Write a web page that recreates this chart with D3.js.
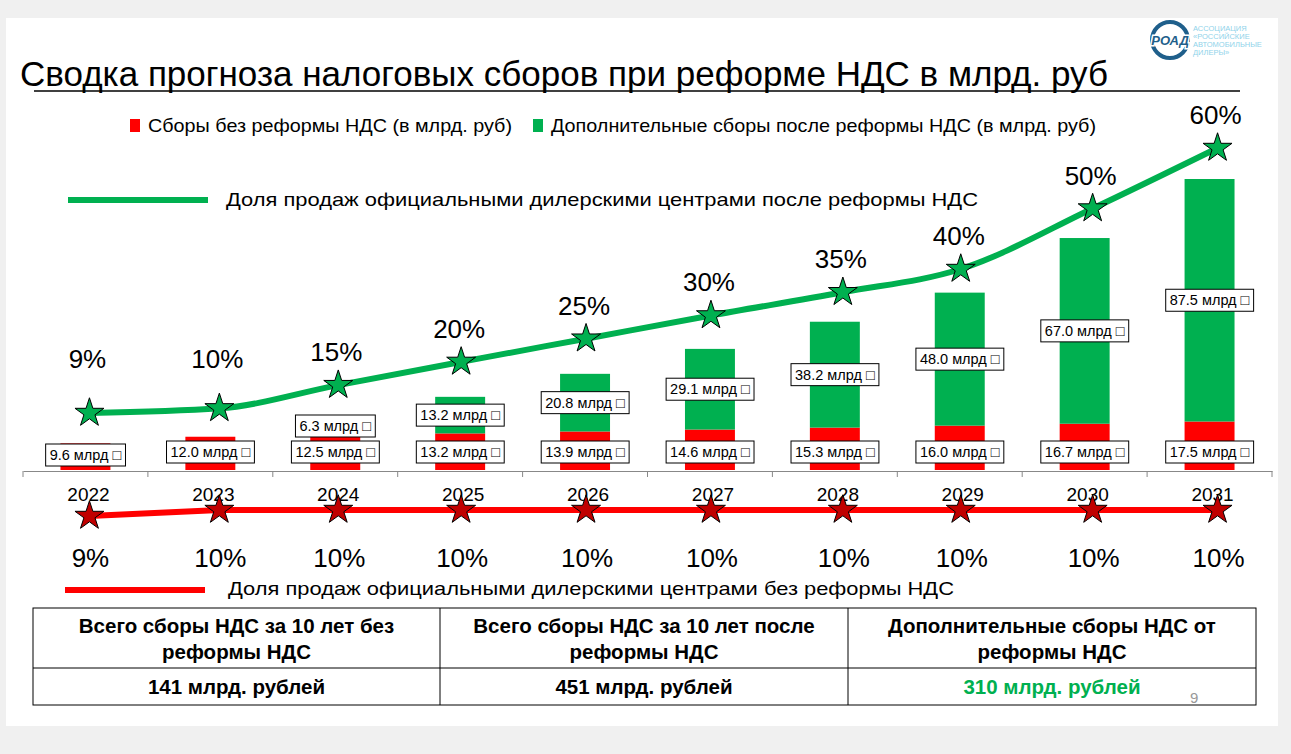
<!doctype html>
<html lang="ru">
<head>
<meta charset="utf-8">
<script src="https://cdnjs.cloudflare.com/ajax/libs/d3/7.8.5/d3.min.js"></script>
<style>
  body { margin: 0; background: #f0f0f0; }
  svg { font-family: "Liberation Sans", Arial, sans-serif; }
</style>
</head>
<body>
<script>
const years = ["2022","2023","2024","2025","2026","2027","2028","2029","2030","2031"];
const baseTax = [9.6, 12.0, 12.5, 13.2, 13.9, 14.6, 15.3, 16.0, 16.7, 17.5];
const extraTax = [0, 0, 6.3, 13.2, 20.8, 29.1, 38.2, 48.0, 67.0, 87.5];
const shareReform = [9, 10, 15, 20, 25, 30, 35, 40, 50, 60];
const shareNoReform = [9, 10, 10, 10, 10, 10, 10, 10, 10, 10];
const tableHead = ["Всего сборы НДС за 10 лет без\nреформы НДС", "Всего сборы НДС за 10 лет после\nреформы НДС", "Дополнительные сборы НДС от\nреформы НДС"];
const tableVals = ["141 млрд. рублей", "451 млрд. рублей", "310 млрд. рублей"];

const W = 1291, H = 754;
const svg = d3.select("body").append("svg").attr("width", W).attr("height", H);

svg.append("rect").attr("x", 6).attr("y", 18).attr("width", 1272).attr("height", 708).attr("fill", "#fff");

svg.append("text").attr("x", 20).attr("y", 86).attr("font-size", 35).attr("fill", "#000")
  .attr("textLength", 1088).attr("lengthAdjust", "spacingAndGlyphs")
  .text("Сводка прогноза налоговых сборов при реформе НДС в млрд. руб");
svg.append("line").attr("x1", 34).attr("x2", 1240).attr("y1", 91).attr("y2", 91).attr("stroke", "#000").attr("stroke-width", 1.5);

// logo
const logo = svg.append("g").attr("transform", "translate(1170,40)");
logo.append("circle").attr("r", 18).attr("fill", "none").attr("stroke", "#1f5f8b").attr("stroke-width", 4);
logo.append("text").attr("x", 0).attr("y", 5).attr("text-anchor", "middle").attr("font-size", 13)
  .attr("font-weight", "bold").attr("font-style", "italic").attr("fill", "#1f5f8b").attr("stroke", "#fff").attr("stroke-width", 3).attr("paint-order", "stroke").text("РОАД");
["АССОЦИАЦИЯ","«РОССИЙСКИЕ","АВТОМОБИЛЬНЫЕ","ДИЛЕРЫ»"].forEach((t, i) =>
  logo.append("text").attr("x", 23).attr("y", -9 + i * 8).attr("font-size", 7.5).attr("fill", "#8fd3ea").text(t));

// legend
const leg = svg.append("g").attr("font-size", 19);
function ltext(xx, yy, w, t) {
  leg.append("text").attr("x", xx).attr("y", yy).attr("textLength", w).attr("lengthAdjust", "spacingAndGlyphs").text(t);
}
leg.append("rect").attr("x", 130).attr("y", 119).attr("width", 10).attr("height", 13).attr("fill", "#ff0000");
ltext(148, 132, 364, "Сборы без реформы НДС (в млрд. руб)");
leg.append("rect").attr("x", 533).attr("y", 119).attr("width", 10).attr("height", 13).attr("fill", "#00b050");
ltext(551, 132, 545, "Дополнительные сборы после реформы НДС (в млрд. руб)");
leg.append("line").attr("x1", 68).attr("x2", 208).attr("y1", 200).attr("y2", 200).attr("stroke", "#00b050").attr("stroke-width", 6);
ltext(226, 206, 752, "Доля продаж официальными дилерскими центрами после реформы НДС");
leg.append("line").attr("x1", 65).attr("x2", 205).attr("y1", 590).attr("y2", 590).attr("stroke", "#ff0000").attr("stroke-width", 6);
ltext(228, 595, 726, "Доля продаж официальными дилерскими центрами без реформы НДС");

// scales
const x = d3.scaleBand().domain(years).range([23, 1272]).paddingInner(0.6).paddingOuter(0.3);
const cx = d => x(d) + x.bandwidth() / 2;
const y = d3.scaleLinear().domain([0, 105]).range([470, 179]);
const yG = d3.scaleLinear().domain([9, 40, 60]).range([413, 269, 148]);
const yR = d3.scaleLinear().domain([9, 10]).range([516, 510]);

years.forEach((yr, i) => {
  svg.append("rect").attr("x", x(yr)).attr("width", x.bandwidth())
    .attr("y", y(baseTax[i])).attr("height", y(0) - y(baseTax[i])).attr("fill", "#ff0000");
  if (extraTax[i] > 0)
    svg.append("rect").attr("x", x(yr)).attr("width", x.bandwidth())
      .attr("y", y(baseTax[i] + extraTax[i])).attr("height", y(baseTax[i]) - y(baseTax[i] + extraTax[i])).attr("fill", "#00b050");
});

// axis
const axis = svg.append("g").attr("transform", "translate(0,471)")
  .call(d3.axisBottom(d3.scaleBand().domain(years).range([23, 1272])).tickSize(0).tickPadding(17));
axis.select(".domain").attr("stroke", "#888");
axis.selectAll("text").attr("font-size", 19).attr("fill", "#000").attr("font-family", "Liberation Sans, Arial, sans-serif").attr("dx", 3);
d3.range(11).forEach(k => {
  const xx = 23 + k * (1249 / 10);
  axis.append("line").attr("x1", xx).attr("x2", xx).attr("y1", 0).attr("y2", 6).attr("stroke", "#888");
});

function label(xc, yc, txt) {
  const g = svg.append("g");
  const t = g.append("text").attr("x", xc).attr("y", yc + 5).attr("text-anchor", "middle").attr("font-size", 14.5).text(txt);
  const bb = t.node().getBBox();
  g.insert("rect", "text").attr("x", bb.x - 4).attr("y", yc - 11).attr("width", bb.width + 8).attr("height", 22)
    .attr("fill", "#fff").attr("stroke", "#000").attr("stroke-width", 1);
}
years.forEach((yr, i) => {
  label(cx(yr), i === 0 ? 455 : 452, baseTax[i].toFixed(1) + " млрд □");
  if (extraTax[i] > 0) {
    const mid = i === 2 ? 426 : (y(baseTax[i]) + y(baseTax[i] + extraTax[i])) / 2;
    label(cx(yr), mid, extraTax[i].toFixed(1) + " млрд □");
  }
});

const star = d3.symbol().type(d3.symbolStar).size(260);
const sx = (yr, i) => cx(yr) + [4, 9, 3, 1, 1, 1, 8, 1, 8, 8][i];

const lineG = d3.line().x((d, i) => sx(years[i], i)).y(d => yG(d)).curve(d3.curveMonotoneX);
svg.append("path").attr("d", lineG(shareReform)).attr("fill", "none").attr("stroke", "#00b050").attr("stroke-width", 6);
shareReform.forEach((v, i) => {
  svg.append("path").attr("d", star).attr("transform", `translate(${sx(years[i], i)},${yG(v)})`)
    .attr("fill", "#00b050").attr("stroke", "#000").attr("stroke-width", 1);
  svg.append("text").attr("x", sx(years[i], i) - 2).attr("y", Math.min(yG(v) - 24, 368)).attr("text-anchor", "middle")
    .attr("font-size", 26).text(v + "%");
});

const lineR = d3.line().x((d, i) => sx(years[i], i)).y(d => yR(d));
svg.append("path").attr("d", lineR(shareNoReform)).attr("fill", "none").attr("stroke", "#ff0000").attr("stroke-width", 6);
shareNoReform.forEach((v, i) => {
  svg.append("path").attr("d", star).attr("transform", `translate(${sx(years[i], i)},${yR(v)})`)
    .attr("fill", "#c00000").attr("stroke", "#000").attr("stroke-width", 1);
  svg.append("text").attr("x", sx(years[i], i) + 1).attr("y", 567).attr("text-anchor", "middle")
    .attr("font-size", 26).text(v + "%");
});

// table
const cols = [33, 440, 848, 1256];
const tg = svg.append("g");
tg.append("rect").attr("x", 33).attr("y", 608).attr("width", 1223).attr("height", 97).attr("fill", "none").attr("stroke", "#000");
tg.append("line").attr("x1", 33).attr("x2", 1256).attr("y1", 668).attr("y2", 668).attr("stroke", "#000");
[440, 848].forEach(xx => tg.append("line").attr("x1", xx).attr("x2", xx).attr("y1", 608).attr("y2", 705).attr("stroke", "#000"));
tableHead.forEach((h, i) => {
  const mx = (cols[i] + cols[i + 1]) / 2;
  h.split("\n").forEach((ln, j) => tg.append("text").attr("x", mx).attr("y", 633 + j * 26).attr("text-anchor", "middle")
    .attr("font-size", 20.5).attr("font-weight", "bold").text(ln));
  tg.append("text").attr("x", mx).attr("y", 694).attr("text-anchor", "middle").attr("font-size", 20.5)
    .attr("font-weight", "bold").attr("fill", i === 2 ? "#00b050" : "#000").text(tableVals[i]);
});
svg.append("text").attr("x", 1190).attr("y", 703).attr("font-size", 15).attr("fill", "#999").text("9");
</script>
</body>
</html>
